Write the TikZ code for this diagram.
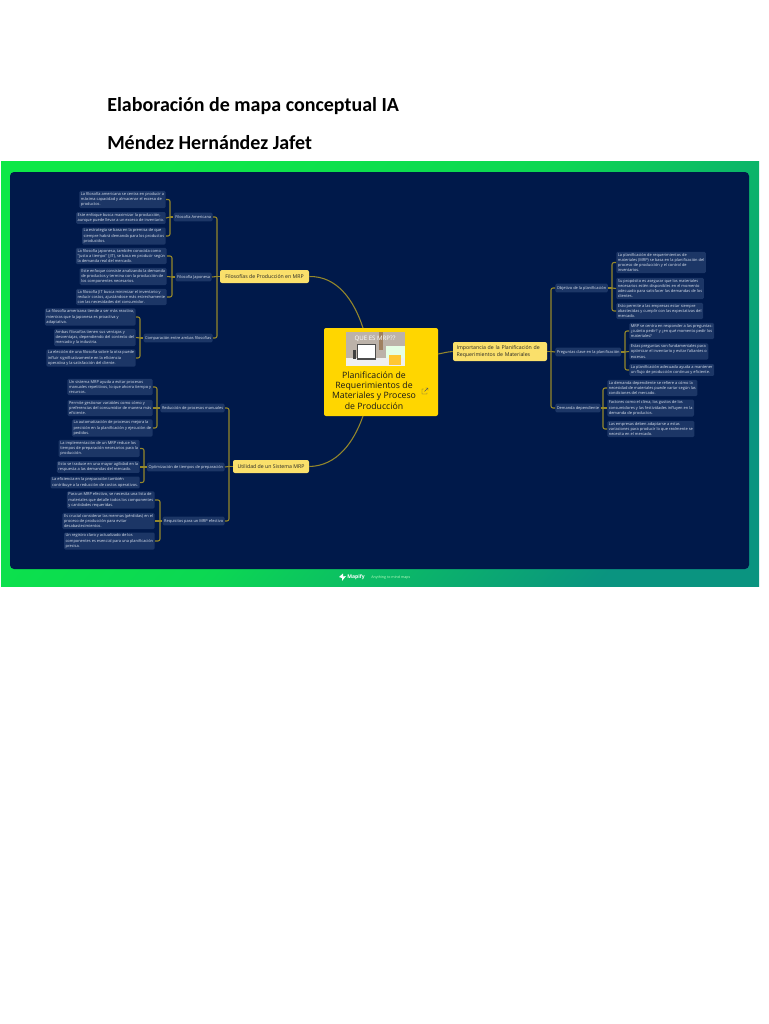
\documentclass[tikz,border=0pt]{standalone}
\usepackage{fontspec}
\setmainfont{Carlito}
\newfontfamily\mapfont{Open Sans}
\usetikzlibrary{arrows}
\definecolor{cpanel}{rgb}{0.0, 0.10, 0.29}
\definecolor{cleaf}{rgb}{0.11, 0.21, 0.40}
\definecolor{ctext}{rgb}{0.85, 0.88, 0.93}
\definecolor{cbranch}{rgb}{0.58, 0.53, 0.17}
\definecolor{cyellow}{rgb}{1.0, 0.84, 0.0}
\definecolor{cpale}{rgb}{0.98, 0.88, 0.42}
\definecolor{cbright}{rgb}{0.05, 0.91, 0.28}
\definecolor{cteal}{rgb}{0.04, 0.58, 0.50}

\begin{document}
\begin{tikzpicture}[x=0.75pt,y=-0.75pt,
  branch/.style={draw=cbranch,line width=0.8pt,rounded corners=1.5pt},
  elbow/.style={to path={|- (\tikztotarget)}},
  title node/.style={anchor=base west,inner sep=0pt,font=\fontsize{15}{17}\selectfont\bfseries},
  main node/.style={fill=cyellow,rounded corners=1.5pt,minimum width=85.5pt,minimum height=66pt,inner sep=0pt},
  topic node/.style={fill=cpale,rounded corners=1.5pt,inner sep=0pt,align=left,
        font=\mapfont\fontsize{3.9}{5.6}\selectfont,text=black!85},
  sub node/.style={fill=cleaf,rounded corners=1pt,inner xsep=1.2pt,inner ysep=0pt,minimum height=6.5pt,text=ctext,
        font=\mapfont\fontsize{2.95}{4}\selectfont},
  leaf node/.style={fill=cleaf,rounded corners=1pt,inner xsep=1.2pt,inner ysep=1pt,align=left,text=ctext,
        font=\mapfont\fontsize{2.95}{3.9}\selectfont}]
  \useasboundingbox (0,0) rectangle (768,1024);
  \fill[white] (0,0) rectangle (768,1024);

  \node[title node] (title) at (107,111) {Elaboración de mapa conceptual IA};
  \node[title node] (name) at (107,149) {Méndez Hernández Jafet};

  % backdrop
  \shade[left color=cbright,right color=cteal,middle color=cbright!80!cteal,shading angle=50] (1,161) rectangle (759,586);
  \fill[cpanel,rounded corners=3pt] (10,172) rectangle (749,569);

  % centre
  \node[main node] (root) at (381,372) {};
  \fill[brown!25!gray!60!white] (346,332) rectangle (405,366);
  \fill[green!10!white] (386,346) rectangle (405,366);
  \fill[brown!50!gray] (379,332) rectangle (383,350);
  \fill[white!88!gray] (346,358) rectangle (405,366);
  \fill[black!70] (357,344) rectangle (376,360);
  \fill[white] (358,345) rectangle (375,358);
  \fill[black!75] (353,350) rectangle (356,359);
  \fill[orange!55!yellow!80!white] (389,355) rectangle (401,365);
  \node[inner sep=0pt,text=white,font=\mapfont\fontsize{4.6}{5}\selectfont] (pic) at (375,339) {QUE ES MRP??};
  \node[inner sep=0pt,align=center,text=black!90,font=\mapfont\fontsize{6.55}{7.75}\selectfont] (roottext) at (374,390.5)
    {Planificación de\\Requerimientos de\\Materiales y Proceso\\de Producción};
  \draw[black!65,line width=0.35pt] (423.5,389) -- (422,389) -- (422,394) -- (427,394) -- (427,392.5) (424.5,391.5) -- (428,388) (425.5,388) -- (428,388) -- (428,390.5);

  % topics
  \node[topic node,minimum width=66.75pt,minimum height=9.75pt,align=center] (fil) at (264.5,276.5) {Filosofías de Producción en MRP};
  \node[topic node,minimum width=57pt,minimum height=9.75pt,align=center] (uti) at (271,466.5) {Utilidad de un Sistema MRP};
  \node[topic node,minimum width=70.5pt,minimum height=14.25pt,text width=65pt] (imp) at (500,351.5) {Importancia de la Planificación de\\Requerimientos de Materiales};

  % left top
  \node[sub node,anchor=east] (fam) at (213,217) {Filosofía Americana};
  \node[sub node,anchor=east] (fja) at (212,277) {Filosofía Japonesa};
  \node[sub node,anchor=east] (cmp) at (213,338) {Comparación entre ambas filosofías};
  \node[leaf node,anchor=east] (a1) at (166,199.5) {La filosofía americana se centra en producir a\\máxima capacidad y almacenar el exceso de\\productos.};
  \node[leaf node,anchor=east] (a2) at (166,218) {Este enfoque busca maximizar la producción,\\aunque puede llevar a un exceso de inventario.};
  \node[leaf node,anchor=east] (a3) at (166,236) {La estrategia se basa en la premisa de que\\siempre habrá demanda para los productos\\producidos.};
  \node[leaf node,anchor=east] (j1) at (167,256) {La filosofía japonesa, también conocida como\\"justo a tiempo" (JIT), se basa en producir según\\la demanda real del mercado.};
  \node[leaf node,anchor=east] (j2) at (167,276.5) {Este enfoque consiste analizando la demanda\\de productos y termina con la producción de\\los componentes necesarios.};
  \node[leaf node,anchor=east] (j3) at (167,297) {La filosofía JIT busca minimizar el inventario y\\reducir costos, ajustándose más estrechamente\\con las necesidades del consumidor.};
  \node[leaf node,anchor=east] (c1) at (136,317) {La filosofía americana tiende a ser más reactiva,\\mientras que la japonesa es proactiva y\\adaptativa.};
  \node[leaf node,anchor=east] (c2) at (136,337.5) {Ambas filosofías tienen sus ventajas y\\desventajas, dependiendo del contexto del\\mercado y la industria.};
  \node[leaf node,anchor=east] (c3) at (136,358) {La elección de una filosofía sobre la otra puede\\influir significativamente en la eficiencia\\operativa y la satisfacción del cliente.};

  % left bottom
  \node[sub node,anchor=east] (red) at (225,408) {Reducción de procesos manuales};
  \node[sub node,anchor=east] (opt) at (225,467) {Optimización de tiempos de preparación};
  \node[sub node,anchor=east] (req) at (225,521) {Requisitos para un MRP efectivo};
  \node[leaf node,anchor=east] (r1) at (153,387) {Un sistema MRP ayuda a evitar procesos\\manuales repetitivos, lo que ahorra tiempo y\\recursos.};
  \node[leaf node,anchor=east] (r2) at (153,408) {Permite gestionar variables como cómo y\\preferencias del consumidor de manera más\\eficiente.};
  \node[leaf node,anchor=east] (r3) at (153,428) {La automatización de procesos mejora la\\precisión en la planificación y ejecución de\\pedidos.};
  \node[leaf node,anchor=east] (o1) at (140,448.5) {La implementación de un MRP reduce los\\tiempos de preparación necesarios para la\\producción.};
  \node[leaf node,anchor=east] (o2) at (140,467) {Esto se traduce en una mayor agilidad en la\\respuesta a las demandas del mercado.};
  \node[leaf node,anchor=east] (o3) at (140,482.5) {La eficiencia en la preparación también\\contribuye a la reducción de costos operativos.};
  \node[leaf node,anchor=east] (n1) at (155,500) {Para un MRP efectivo, se necesita una lista de\\materiales que detalle todos los componentes\\y cantidades requeridas.};
  \node[leaf node,anchor=east] (n2) at (155,521) {Es crucial considerar las mermas (pérdidas) en el\\proceso de producción para evitar\\desabastecimientos.};
  \node[leaf node,anchor=east] (n3) at (155,541) {Un registro claro y actualizado de los\\componentes es esencial para una planificación\\precisa.};

  % right
  \node[sub node,anchor=west] (obj) at (555,288) {Objetivo de la planificación};
  \node[sub node,anchor=west] (pre) at (555,352) {Preguntas clave en la planificación};
  \node[sub node,anchor=west] (dem) at (555,408) {Demanda dependiente};
  \node[leaf node,anchor=west] (q1) at (616,262.5) {La planificación de requerimientos de\\materiales (MRP) se basa en la planificación del\\proceso de producción y el control de\\inventarios.};
  \node[leaf node,anchor=west] (q2) at (616,288.5) {Su propósito es asegurar que los materiales\\necesarios estén disponibles en el momento\\adecuado para satisfacer las demandas de los\\clientes.};
  \node[leaf node,anchor=west] (q3) at (616,311) {Esto permite a las empresas estar siempre\\abastecidas y cumplir con las expectativas del\\mercado.};
  \node[leaf node,anchor=west] (p1) at (629,331) {MRP se centra en responder a las preguntas:\\¿cuánto pedir? y ¿en qué momento pedir los\\materiales?};
  \node[leaf node,anchor=west] (p2) at (629,351.5) {Estas preguntas son fundamentales para\\optimizar el inventario y evitar faltantes o\\excesos.};
  \node[leaf node,anchor=west] (p3) at (629,370) {La planificación adecuada ayuda a mantener\\un flujo de producción continuo y eficiente.};
  \node[leaf node,anchor=west] (d1) at (607,388) {La demanda dependiente se refiere a cómo la\\necesidad de materiales puede variar según las\\condiciones del mercado.};
  \node[leaf node,anchor=west] (d2) at (607,408) {Factores como el clima, los gustos de los\\consumidores y las festividades influyen en la\\demanda de productos.};
  \node[leaf node,anchor=west] (d3) at (607,429) {Las empresas deben adaptarse a estas\\variaciones para producir lo que realmente se\\necesita en el mercado.};

  % joints
  \coordinate (tl1) at (217,217);
  \coordinate (tl2) at (229,408);
  \coordinate (tr) at (551,288);
  \coordinate (bfam) at (170,217);
  \coordinate (bfja) at (172,277);
  \coordinate (bcmp) at (140,338);
  \coordinate (bred) at (157,408);
  \coordinate (bopt) at (144,467);
  \coordinate (breq) at (160,521);
  \coordinate (bobj) at (612,288);
  \coordinate (bpre) at (625,352);
  \coordinate (bdem) at (603,408);
  \coordinate (rootup) at (363,328);
  \coordinate (rootdn) at (363,416);
  \coordinate (rootr) at (438,354);

  \draw[branch] (fil.east) .. controls (337,276) and (354,300) .. (rootup);
  \draw[branch] (uti.east) .. controls (337,466) and (354,442) .. (rootdn);
  \draw[branch] (rootr) .. controls (444,353) and (446,352) .. (imp.west);

  % trunks
  \path[branch]
    (fil.west) edge (tl1 |- fil.west)
    (tl1 |- fil.west) edge[elbow] (fam.east)
    (tl1 |- fil.west) edge (fja.east)
    (tl1 |- fil.west) edge[elbow] (cmp.east)
    (uti.west) edge (tl2 |- uti.west)
    (tl2 |- uti.west) edge[elbow] (red.east)
    (tl2 |- uti.west) edge (opt.east)
    (tl2 |- uti.west) edge[elbow] (req.east)
    (imp.east) edge (tr |- imp.east)
    (tr |- imp.east) edge[elbow] (obj.west)
    (tr |- imp.east) edge (pre.west)
    (tr |- imp.east) edge[elbow] (dem.west);

  % brackets
  \path[branch]
    (fam.west) edge (bfam)
    (bfam) edge[elbow] (a1.east) (bfam) edge (a2.east) (bfam) edge[elbow] (a3.east)
    (fja.west) edge (bfja)
    (bfja) edge[elbow] (j1.east) (bfja) edge (j2.east) (bfja) edge[elbow] (j3.east)
    (cmp.west) edge (bcmp)
    (bcmp) edge[elbow] (c1.east) (bcmp) edge (c2.east) (bcmp) edge[elbow] (c3.east)
    (red.west) edge (bred)
    (bred) edge[elbow] (r1.east) (bred) edge (r2.east) (bred) edge[elbow] (r3.east)
    (opt.west) edge (bopt)
    (bopt) edge[elbow] (o1.east) (bopt) edge (o2.east) (bopt) edge[elbow] (o3.east)
    (req.west) edge (breq)
    (breq) edge[elbow] (n1.east) (breq) edge (n2.east) (breq) edge[elbow] (n3.east)
    (obj.east) edge (bobj)
    (bobj) edge[elbow] (q1.west) (bobj) edge (q2.west) (bobj) edge[elbow] (q3.west)
    (pre.east) edge (bpre)
    (bpre) edge[elbow] (p1.west) (bpre) edge (p2.west) (bpre) edge[elbow] (p3.west)
    (dem.east) edge (bdem)
    (bdem) edge[elbow] (d1.west) (bdem) edge (d2.west) (bdem) edge[elbow] (d3.west);

  % footer
  \fill[white] (339,577) -- (343,573.5) -- (343,576.5) -- (346,576) -- (342,581) -- (342,578) -- cycle;
  \node[anchor=west,inner sep=0pt,text=white,font=\mapfont\fontsize{3.8}{4}\selectfont\bfseries] (brand) at (347,577) {Mapify};
  \node[anchor=west,inner sep=0pt,text=white!75!green,font=\mapfont\fontsize{2.7}{3}\selectfont] (slogan) at (371,577.5) {Anything to mind maps};
\end{tikzpicture}
\end{document}
